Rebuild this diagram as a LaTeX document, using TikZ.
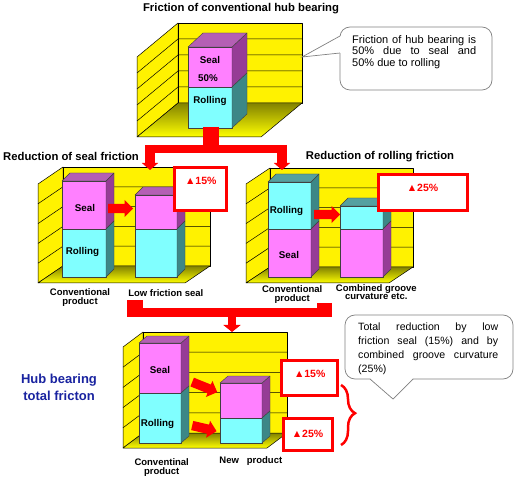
\documentclass[tikz,border=0pt]{standalone}
\usepackage{fontspec}
\setmainfont{Liberation Sans}
\usetikzlibrary{arrows.meta,shapes.arrows,decorations.pathreplacing}
\definecolor{sealF}{RGB}{255,128,255}
\definecolor{sealS}{RGB}{150,60,150}
\definecolor{sealT}{RGB}{180,95,180}
\definecolor{rollF}{RGB}{128,255,255}
\definecolor{rollS}{RGB}{60,135,135}
\definecolor{rollT}{RGB}{85,160,160}
\definecolor{olivefl}{RGB}{130,130,0}
\definecolor{hubblue}{RGB}{25,35,160}
\definecolor{callgray}{RGB}{128,128,128}
\newcommand{\fs}[2]{\fontsize{#1}{#2}\selectfont}
\tikzset{
  wall/.style={fill=yellow, draw=black, line width=0.5pt, line join=round},
  floorface/.style={top color=olivefl, bottom color=yellow, draw=black, line width=0.5pt, line join=round},
  gridline/.style={draw=black, line width=0.5pt},
  barline/.style={draw=black!75, line width=0.4pt, line join=round},
  sealfront/.style={fill=sealF}, sealside/.style={fill=sealS}, sealtop/.style={fill=sealT},
  rollfront/.style={fill=rollF}, rollside/.style={fill=rollS}, rolltop/.style={fill=rollT},
  ttl/.style={font=\bfseries\fs{11.3}{13}, inner sep=0pt},
  barlbl/.style={font=\bfseries\fs{9.8}{11}, inner sep=0pt},
  axlbl/.style={font=\bfseries\fs{9.5}{9}, align=center, inner sep=0pt},
  redtxt/.style={text=red, font=\bfseries\fs{10.5}{11}, inner sep=0pt},
  hubtxt/.style={text=hubblue, font=\bfseries\fs{13}{17.4}, align=center, inner sep=0pt},
  redbox/.style={draw=red, line width=3pt, fill=white, inner sep=0pt},
  blockarrow/.style={single arrow, fill=red, inner xsep=0pt, inner ysep=4.5pt,
    single arrow head extend=4pt, anchor=tail},
  redconn/.style={draw=red, line cap=butt},
  callbox/.style={draw=callgray, fill=white, line width=0.7pt, rounded corners=10pt, inner sep=0pt},
  callline/.style={draw=callgray, line width=0.7pt},
  calltext/.style={inner sep=0pt, anchor=north west, align=justify},
}
% back wall xl, yt, xr, yb ; depth dx, dy
\newcommand{\chartwalls}[6]{%
  \path[wall] (#1-#5,#2+#6) -- (#1,#2) -- (#1,#4) -- (#1-#5,#4+#6) -- cycle;
  \path[wall] (#1,#2) rectangle (#3,#4);
  \foreach \k in {1,2,3,4}{%
    \pgfmathsetmacro{\gy}{#2+\k*(#4-#2)/5}
    \draw[gridline] (#1-#5,\gy+#6) -- (#1,\gy) -- (#3,\gy);
  }
  \path[floorface] (#1,#4) -- (#3,#4) -- (#3-#5,#4+#6) -- (#1-#5,#4+#6) -- cycle;
}
% xl, xr, ytop, ysplit, ybottom, dx, dy, upper, lower
\newcommand{\hubbar}[9]{%
  \path[#8front, barline] (#1,#3) rectangle (#2,#4);
  \path[#9front, barline] (#1,#4) rectangle (#2,#5);
  \path[#8side, barline] (#2,#3) -- ++(#6,-#7) -- ++(0,#4-#3) -- (#2,#4) -- cycle;
  \path[#9side, barline] (#2,#4) -- ++(#6,-#7) -- ++(0,#5-#4) -- (#2,#5) -- cycle;
  \path[#8top, barline] (#1,#3) -- ++(#6,-#7) -- ++(#2-#1,0) -- (#2,#3) -- cycle;
}
\begin{document}
\begin{tikzpicture}[x=1pt,y=-1pt]
\useasboundingbox (0,0) rectangle (514,478);
\fill[white] (0,0) rectangle (514,478);

% ---------- chart 1
\chartwalls{178}{23}{302}{103}{41}{34}
\hubbar{188}{232}{47}{87}{128}{15}{14}{seal}{roll}
\node[ttl, anchor=base] (title1) at (241,11.7) {Friction of conventional hub bearing};
\node[barlbl, anchor=base] (s1) at (210,64) {Seal};
\node[barlbl, anchor=base] (p1) at (208,81.7) {50\%};
\node[barlbl, anchor=base] (r1) at (210,103.5) {Rolling};

% ---------- chart 2
\chartwalls{63}{167}{210}{266}{25}{17}
\hubbar{62}{106}{181}{229}{277}{8}{8}{seal}{roll}
\hubbar{135}{177}{195}{229}{277}{8}{8}{seal}{roll}
\node[ttl, anchor=base west] (title2) at (3,160.7) {Reduction of seal friction};
\node[barlbl, anchor=base] (s2) at (85,211.7) {Seal};
\node[barlbl, anchor=base] (r2) at (82.5,255) {Rolling};
\node[blockarrow, minimum height=25pt] (a2) at (108,208.5) {};
\node[redbox, minimum width=52pt, minimum height=43pt] (b2) at (200.5,189) {};
\node[redtxt, anchor=base] (b2t) at (200.8,184.5) {▲15\%};
\node[axlbl, anchor=base] (l2a) at (80,305) {Conventional\\product};
\node[axlbl, anchor=base] (l2b) at (165.8,297) {Low friction seal};

% ---------- chart 3
\chartwalls{270}{168}{413}{267}{24}{16}
\hubbar{268}{311}{182}{229}{277}{8}{8}{roll}{seal}
\hubbar{340}{383}{206}{229}{277}{8}{8}{roll}{seal}
\node[ttl, anchor=base] (title3) at (380,160) {Reduction of rolling friction};
\node[barlbl, anchor=base] (r3) at (286.5,213.3) {Rolling};
\node[barlbl, anchor=base] (s3) at (289,259) {Seal};
\node[blockarrow, minimum height=26pt] (a3) at (314,214.5) {};
\node[redbox, minimum width=89pt, minimum height=36pt] (b3) at (423,192.5) {};
\node[redtxt, anchor=base] (b3t) at (422.5,192) {▲25\%};
\node[axlbl, anchor=base] (l3a) at (292.2,301.7) {Conventional\\product};
\node[axlbl, anchor=base] (l3b) at (376.3,300) {Combined groove\\curvature etc.};

% ---------- chart 4
\chartwalls{143}{332}{287}{433}{20}{15}
\hubbar{139}{181}{343}{393}{443}{8}{7}{seal}{roll}
\hubbar{220}{262}{383}{418}{443}{8}{7}{seal}{roll}
\node[barlbl, anchor=base] (s4) at (160,373.3) {Seal};
\node[barlbl, anchor=base] (r4) at (157.5,426.7) {Rolling};
\node[blockarrow, minimum height=27pt, rotate=-22] (a4a) at (192,382) {};
\node[blockarrow, minimum height=25pt, rotate=-13] (a4b) at (192,425.5) {};
\node[redbox, minimum width=56pt, minimum height=35pt] (b4a) at (309.5,378) {};
\node[redtxt, anchor=base] (b4at) at (309.7,377) {▲15\%};
\node[redbox, minimum width=49pt, minimum height=32pt] (b4b) at (308,434.5) {};
\node[redtxt, anchor=base] (b4bt) at (307.5,437) {▲25\%};
\node[axlbl, anchor=base] (l4a) at (161.7,474.5) {Conventinal\\product};
\node[axlbl, anchor=base] (l4b) at (250.8,463.3) {New~~~product};
\node[hubtxt, anchor=base] (hub) at (59,400.7) {Hub bearing\\total fricton};

% brace
\coordinate (brtop) at (341,385);
\coordinate (brbot) at (341,445);
\draw[red, line width=2.5pt, decorate, decoration={brace, amplitude=14pt, aspect=0.47}] (brtop) -- (brbot);

% ---------- connectors
\coordinate (c1a) at (211,127);
\coordinate (c1b) at (211,153);
\coordinate (c1l) at (145,149);
\coordinate (c1r) at (287,149);
\coordinate (c1lt) at (150,145);
\coordinate (c1le) at (150,170);
\coordinate (c1rt) at (282,145);
\coordinate (c1re) at (282,170);
\draw[redconn, line width=16pt] (c1a) -- (c1b);
\draw[redconn, line width=8pt] (c1l) -- (c1r);
\draw[redconn, line width=10pt, -{Triangle[width=16pt,length=7pt]}] (c1lt) -- (c1le);
\draw[redconn, line width=10pt, -{Triangle[width=16pt,length=7pt]}] (c1rt) -- (c1re);

\coordinate (c2la) at (135,300);
\coordinate (c2lb) at (135,317);
\coordinate (c2ra) at (324.5,303);
\coordinate (c2rb) at (324.5,317);
\coordinate (c2l) at (127,312.5);
\coordinate (c2r) at (332,312.5);
\coordinate (c2dt) at (232,312.5);
\coordinate (c2de) at (232,332);
\draw[redconn, line width=16pt] (c2la) -- (c2lb);
\draw[redconn, line width=15pt] (c2ra) -- (c2rb);
\draw[redconn, line width=9pt] (c2l) -- (c2r);
\draw[redconn, line width=8pt, -{Triangle[width=17pt,length=7pt]}] (c2dt) -- (c2de);

% ---------- callout 1
\node[callbox, minimum width=152pt, minimum height=63pt] (cb1) at (416,58.5) {};
\coordinate (cp1) at (302,57);
\fill[white] (cp1) -- (340.8,36) -- (340.8,53) -- cycle;
\draw[callline] (340,36) -- (cp1) -- (340,53);
\node[calltext, text width=124pt, font=\fs{11}{11.7}] (ct1) at (352,35)
  {Friction of hub bearing is\linebreak 50\% due to seal and\linebreak 50\% due to rolling};

% ---------- callout 3
\node[callbox, minimum width=168pt, minimum height=64pt] (cb3) at (429,347) {};
\coordinate (cp3) at (393,399);
\fill[white] (370,378.2) -- (413,378.2) -- (cp3) -- cycle;
\draw[callline] (370,379) -- (cp3) -- (413,379);
\node[calltext, text width=140pt, font=\fs{10.6}{14}] (ct3) at (358,322.3)
  {Total reduction by low\linebreak friction seal (15\%) and by\linebreak combined groove curvature\linebreak (25\%)};
\end{tikzpicture}
\end{document}
